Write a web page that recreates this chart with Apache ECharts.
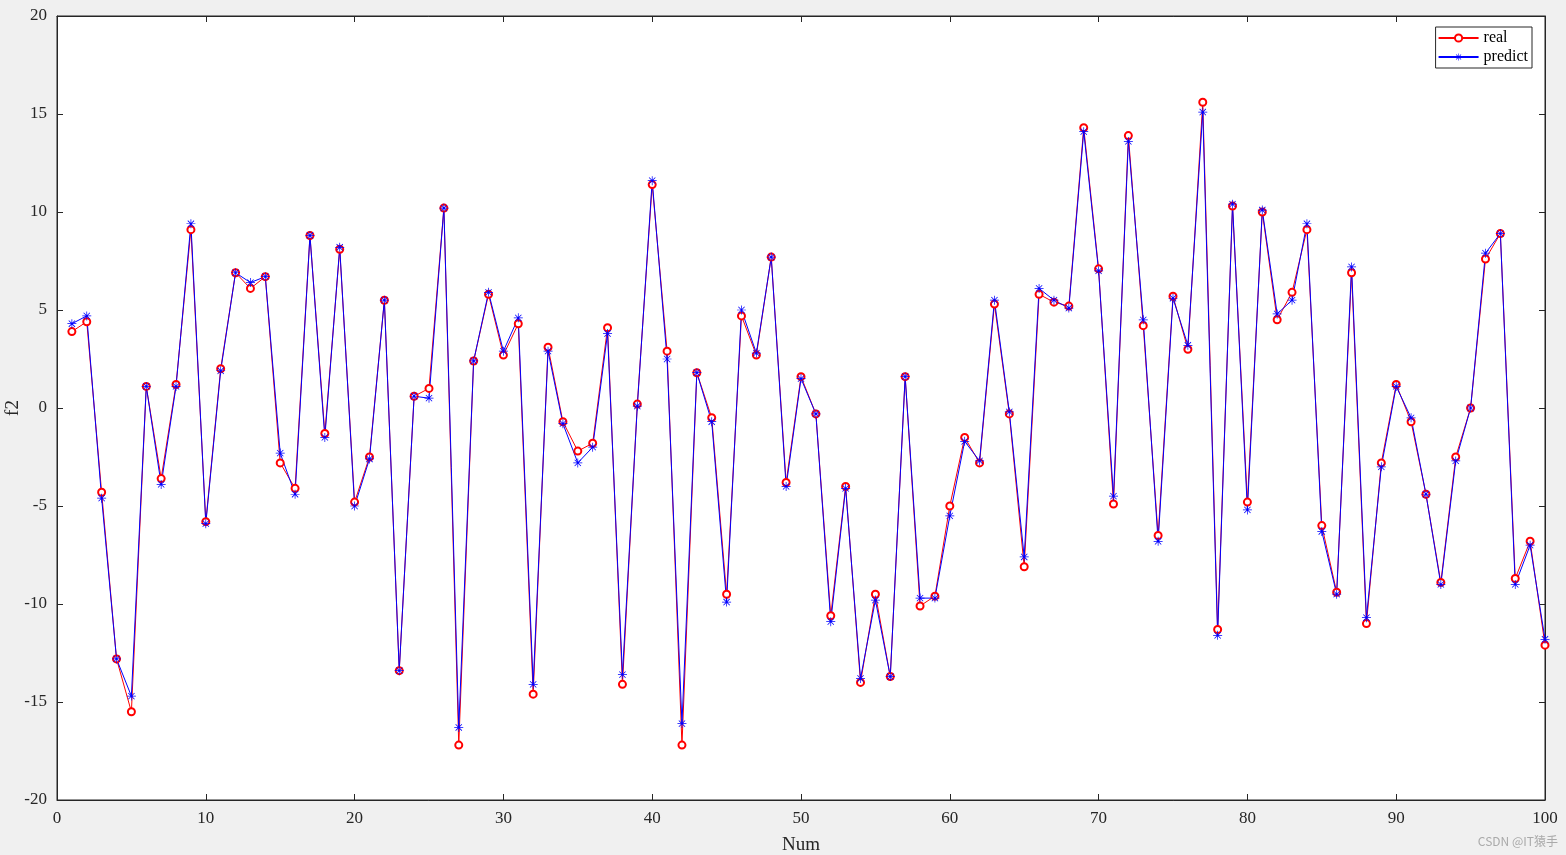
<!DOCTYPE html><html><head><meta charset="utf-8"><script src="https://cdn.jsdelivr.net/npm/echarts@6/dist/echarts.min.js"></script>
<style>html,body{margin:0;background:#f0f0f0}#c{width:1566px;height:855px}</style></head><body><div id="c"></div><script>
const nums = Array.from({length:100},(_,i)=>i+1);
const real = [3.9,4.4,-4.3,-12.8,-15.5,1.1,-3.6,1.2,9.1,-5.8,2.0,6.9,6.1,6.7,-2.8,-4.1,8.8,-1.3,8.1,-4.8,-2.5,5.5,-13.4,0.6,1.0,10.2,-17.2,2.4,5.8,2.7,4.3,-14.6,3.1,-0.7,-2.2,-1.8,4.1,-14.1,0.2,11.4,2.9,-17.2,1.8,-0.5,-9.5,4.7,2.7,7.7,-3.8,1.6,-0.3,-10.6,-4.0,-14.0,-9.5,-13.7,1.6,-10.1,-9.6,-5.0,-1.5,-2.8,5.3,-0.3,-8.1,5.8,5.4,5.2,14.3,7.1,-4.9,13.9,4.2,-6.5,5.7,3.0,15.6,-11.3,10.3,-4.8,10.0,4.5,5.9,9.1,-6.0,-9.4,6.9,-11.0,-2.8,1.2,-0.7,-4.4,-8.9,-2.5,0.0,7.6,8.9,-8.7,-6.8,-12.1];
const predict = [4.3,4.7,-4.6,-12.8,-14.7,1.1,-3.9,1.1,9.4,-5.9,1.9,6.9,6.4,6.7,-2.3,-4.4,8.8,-1.5,8.2,-5.0,-2.6,5.5,-13.4,0.6,0.5,10.2,-16.3,2.4,5.9,2.9,4.6,-14.1,2.9,-0.8,-2.8,-2.0,3.8,-13.6,0.1,11.6,2.5,-16.1,1.8,-0.7,-9.9,5.0,2.8,7.7,-4.0,1.5,-0.3,-10.9,-4.1,-13.8,-9.8,-13.7,1.6,-9.7,-9.7,-5.5,-1.7,-2.7,5.5,-0.2,-7.6,6.1,5.5,5.1,14.1,7.0,-4.5,13.6,4.5,-6.8,5.6,3.2,15.1,-11.6,10.4,-5.2,10.1,4.8,5.5,9.4,-6.3,-9.5,7.2,-10.7,-3.0,1.1,-0.5,-4.4,-9.0,-2.7,0.0,7.9,8.9,-9.0,-7.0,-11.8];
const star='path://M4.6,0L5.4,0L5.4,10L4.6,10ZM0,4.6L10,4.6L10,5.4L0,5.4ZM1.2,1.8L1.8,1.2L8.8,8.2L8.2,8.8ZM8.2,1.2L8.8,1.8L1.8,8.8L1.2,8.2Z';
const F='Liberation Serif';
const ch=echarts.init(document.getElementById('c'));
const ax={axisLine:{show:true,onZero:false,lineStyle:{color:'#262626'}},axisTick:{inside:true,length:6,lineStyle:{color:'#262626'}},splitLine:{show:false},axisLabel:{fontFamily:F,fontSize:17,color:'#262626'}};
ch.setOption({
 backgroundColor:'#f0f0f0',animation:false,
 grid:{left:57,right:21,top:16,bottom:55,containLabel:false,outerBoundsMode:'none',show:true,backgroundColor:'#fff',borderColor:'#262626'},
 legend:{right:34,top:27,orient:'vertical',itemGap:3,itemWidth:40,itemHeight:9,backgroundColor:'#fff',borderColor:'#262626',borderWidth:1,padding:[3,4,3,2],borderRadius:0,textStyle:{fontFamily:F,fontSize:16,color:'#000'},data:['real','predict']},
 xAxis:[{type:'value',min:0,max:100,interval:10,name:'Num',nameLocation:'middle',nameGap:36,nameTextStyle:{fontFamily:F,fontSize:19,color:'#262626'},...ax,axisLabel:{...ax.axisLabel,margin:10}},
  {type:'value',position:'top',min:0,max:100,interval:10,...ax,axisLabel:{show:false}}],
 yAxis:[{type:'value',min:-20,max:20,interval:5,...ax,axisLabel:{...ax.axisLabel,margin:10}},
  {type:'value',position:'right',min:-20,max:20,interval:5,...ax,axisLabel:{show:false}}],
 series:[
  {name:'real',type:'line',data:nums.map((n,i)=>[n,real[i]]),symbol:'emptyCircle',symbolSize:7,itemStyle:{color:'#ff0000',borderWidth:0.8},lineStyle:{color:'#ff0000',width:1}},
  {name:'predict',type:'line',data:nums.map((n,i)=>[n,predict[i]]),symbol:star,symbolSize:9,itemStyle:{color:'#0000ff'},lineStyle:{color:'#0000ff',width:1}}
 ],
 graphic:[
  {type:'text',x:13,y:408,rotation:Math.PI/2,style:{text:'f2',fontSize:19,fill:'#262626',fontFamily:F,align:'center',verticalAlign:'middle'}},
  {type:'text',right:8,bottom:8,style:{text:'CSDN @IT猿手',fontSize:12,fill:'#aaa',fontFamily:'Noto Sans CJK SC'}}]
});
</script></body></html>
